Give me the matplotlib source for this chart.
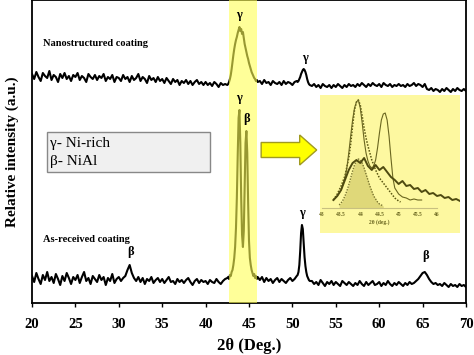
import numpy as np
import matplotlib
matplotlib.use("Agg")
from matplotlib import pyplot as plt
from matplotlib.patches import FancyArrow, Rectangle

plt.rcParams['font.family'] = ['Liberation Serif', 'DejaVu Serif']

# sampling grid of the scans (2theta, deg)
two_theta = np.concatenate([
    np.arange(20.0, 42.51, 0.25),
    np.arange(42.6, 46.01, 0.1),
    np.arange(46.25, 50.51, 0.25),
    np.arange(50.6, 52.01, 0.1),
    np.arange(52.25, 70.01, 0.25),
])

# intensity (a.u.)
nano = [
    229, 224, 231, 226, 222, 230, 227, 225, 232, 223,
    228, 226, 221, 229, 225, 230, 224, 227, 222, 228,
    226, 230, 223, 227, 225, 221, 229, 226, 224, 228,
    223, 227, 225, 229, 222, 226, 224, 228, 221, 226,
    225, 222, 228, 224, 226, 221, 227, 223, 225, 229,
    222, 226, 224, 220, 227, 223, 225, 221, 226, 222,
    224, 220, 225, 222, 219, 224, 221, 223, 218, 222,
    220, 223, 219, 222, 218, 221, 223, 219, 221, 218,
    221, 218, 220, 217, 221, 219, 216, 220, 218, 219,
    218,
    219, 221, 224, 228, 234, 241, 248, 254, 259, 263,
    266, 270, 273, 276, 272, 274, 269, 271, 265, 259,
    255, 251, 247, 244, 240, 237, 234, 231, 229, 227,
    225, 224, 222, 223, 221,
    222, 219, 223, 220, 221, 218, 222, 220, 219, 221,
    218, 222, 219, 221, 220, 218, 221, 222,
    221, 222, 224, 226, 229, 231, 233, 234, 233, 231,
    228, 224, 221, 219, 218,
    217, 219, 216, 218, 215, 219, 217, 216, 218, 215,
    218, 216, 219, 217, 215, 218, 216, 219, 217, 218,
    216, 219, 217, 220, 218, 216, 219, 217, 220, 218,
    217, 219, 216, 220, 218, 217, 219, 216, 218, 217,
    219, 217, 218, 216, 219, 217, 218, 220, 217, 219,
    218, 216, 219, 214, 213, 215, 212, 214, 213, 211,
    214, 212, 215, 213, 211, 214, 212, 215, 213, 212,
    214, 212,
]

as_received = [
    27, 21, 30, 24, 19, 28, 23, 31, 22, 26,
    20, 29, 24, 18, 27, 22, 30, 25, 19, 26,
    23, 28, 20, 26, 31, 22, 25, 19, 27, 24,
    21, 28, 23, 26, 18, 25, 22, 29, 20, 24,
    26, 22, 25, 27, 33, 38, 30, 25, 22, 26,
    21, 25, 19, 24, 22, 26, 20, 23, 25, 21,
    24, 20, 23, 26, 21, 22, 19, 24, 21, 23,
    20, 23, 25, 21, 18, 22, 24, 20, 23, 21,
    22, 19, 23, 21, 20, 24, 21, 19, 22, 24,
    25,
    26, 24, 28, 27, 31, 33, 38, 45, 56, 75,
    105, 148, 185, 193, 160, 105, 68, 56, 72, 118,
    160, 172, 150, 100, 62, 45, 38, 33, 30, 27,
    29, 25, 27, 24, 26,
    23, 26, 21, 25, 22, 24, 20, 23, 25, 21,
    24, 22, 20, 23, 25, 22, 24, 27,
    28, 31, 38, 52, 70, 78, 74, 60, 46, 37,
    31, 27, 25, 23, 22,
    22, 19, 21, 18, 23, 20, 17, 21, 19, 22,
    18, 21, 19, 17, 22, 20, 18, 21, 19, 17,
    20, 18, 22, 19, 17, 21, 18, 20, 22, 18,
    19, 21, 17, 20, 18, 22, 19, 17, 20, 18,
    21, 19, 17, 20, 18, 21, 19, 20, 22, 24,
    27, 30, 31, 28, 24, 21, 19, 20, 18, 19,
    17, 20, 18, 16, 19, 17, 18, 16, 19, 17,
    18, 16,
]

# inset: zoom on the 43-46 deg region
ins_nano_x = np.arange(43.3, 46.61, 0.1)
ins_nano = [8, 12, 18, 28, 38, 45, 48, 45, 50, 42,
            38, 43, 38, 41, 36, 31, 28, 24, 27, 22,
            23, 19, 20, 16, 18, 14, 15, 12, 13, 10,
            11, 8, 9, 7]

ins_as_x = [43.3, 43.4, 43.5, 43.6, 43.65, 43.7, 43.75, 43.8, 43.85, 43.9,
            43.95, 44.0, 44.05, 44.1, 44.15, 44.2, 44.25, 44.3, 44.35, 44.4,
            44.45, 44.5, 44.55, 44.6, 44.65, 44.7, 44.75, 44.8, 44.85, 44.9,
            45.0, 45.1, 45.2, 45.3, 45.4, 45.5, 45.6]
ins_as = [8, 12, 18, 30, 40, 55, 72, 88, 100, 106,
          108, 100, 85, 68, 55, 47, 42, 40, 42, 48,
          60, 75, 88, 94, 95, 88, 72, 50, 30, 20,
          14, 11, 10, 8, 9, 8, 8]

fit1_x = [43.3, 43.4, 43.5, 43.6, 43.7, 43.75, 43.8, 43.85, 43.9, 43.95,
          44.0, 44.05, 44.1, 44.15, 44.2, 44.3, 44.4, 44.5, 44.6, 44.7,
          44.8, 44.9, 45.0, 45.05]
fit1 = [8, 14, 22, 32, 50, 64, 82, 98, 106, 108,
        103, 92, 80, 70, 62, 48, 38, 30, 25, 20,
        15, 10, 7, 6]

fit2_x = np.arange(43.45, 44.61, 0.05)
fit2 = [3, 5, 8, 12, 17, 23, 30, 37, 43, 47,
        49, 48, 45, 40, 34, 28, 22, 17, 12, 9,
        6, 4, 3, 2]

x_ticks = [20, 25, 30, 35, 40, 45, 50, 55, 60, 65, 70]
ins_ticks = [43, 43.5, 44, 44.5, 45, 45.5, 46]
ins_tick_labels = ['43', '43.5', '44', '44.5', '45', '45.5', '46']

fig = plt.figure(figsize=(4.74, 3.55), dpi=100)
ax = fig.add_axes([32 / 474, 52 / 355, 434 / 474, 303 / 355])

ax.plot(two_theta[:len(nano)], nano, color='black', lw=1.5, zorder=2)
ax.plot(two_theta[:len(as_received)], as_received, color='black', lw=1.5, zorder=2)
ax.axvspan(42.7, 45.93, color='#ffff55', alpha=0.6, lw=0, zorder=3)

ax.set_xlim(20, 70)
ax.set_ylim(0, 303)
ax.set_xticks(x_ticks)
ax.set_xticklabels([str(t) for t in x_ticks], fontweight='bold', fontsize=10.5)
ax.set_yticks([])
ax.tick_params(axis='x', direction='out', length=3, width=1, pad=8)
for s in ax.spines.values():
    s.set_linewidth(1.3)
ax.set_xlabel('2θ (Deg.)', fontweight='bold', fontsize=12, labelpad=5)
ax.set_ylabel('Relative intensity (a.u.)', fontweight='bold', fontsize=11, labelpad=9)

ax.text(21.27, 260, 'Nanostructured coating', fontweight='bold', fontsize=7.5, va='center')
ax.text(21.27, 63, 'As-received coating', fontweight='bold', fontsize=7.5, va='center')

peak_labels = [(43.85, 288, 'γ'), (51.45, 245, 'γ'), (43.85, 205, 'γ'),
               (44.77, 184, 'β'), (51.1, 90, 'γ'), (31.3, 51, 'β'), (65.3, 47, 'β')]
for px, py, lab in peak_labels:
    ax.text(px, py, lab, fontweight='bold', fontsize=9, ha='center', va='center', zorder=4)

ax.add_patch(Rectangle((21.73, 131), 18.8, 40, facecolor='#f0f0f0', edgecolor='#888888',
                       lw=1, zorder=4))
ax.text(22.1, 160, 'γ- Ni-rich', fontsize=11, va='center', zorder=5)
ax.text(22.1, 141, 'β- NiAl', fontsize=11, va='center', zorder=5)

ax.add_patch(FancyArrow(46.4, 153, 6.4, 0, width=15, head_width=30, head_length=1.96,
                        length_includes_head=True, facecolor='#ffff00',
                        edgecolor='#a09a20', lw=1, zorder=4))

# inset
ins = fig.add_axes([320 / 474, 122 / 355, 140 / 474, 138 / 355])
ins.set_facecolor('#fdf8a0')
ins.fill_between(fit2_x, 0, fit2, color='#d8d070', alpha=0.8, lw=0)
ins.plot(fit2_x, fit2, color='#7a7530', lw=1.0, ls=(0, (1, 1)))
ins.plot(fit1_x, fit1, color='#5a5610', lw=1.1, ls=(0, (1, 1)))
ins.plot(ins_as_x, ins_as, color='#6a6620', lw=0.8)
ins.plot(ins_nano_x, ins_nano, color='#4e4a10', lw=1.4)
ins.set_xlim(42.95, 46.6)
ins.set_ylim(-25, 113)
for k in ['top', 'right', 'left']:
    ins.spines[k].set_visible(False)
ins.spines['bottom'].set_position(('data', 0))
ins.spines['bottom'].set_bounds(43, 46)
ins.spines['bottom'].set_color('#c8c080')
ins.spines['bottom'].set_linewidth(0.8)
ins.set_yticks([])
ins.set_xticks(ins_ticks)
ins.set_xticklabels(ins_tick_labels, fontsize=4, fontweight='bold', color='#6a6620')
ins.tick_params(axis='x', length=0, pad=3)
ins.text(44.5, -14, '2θ (deg.)', fontsize=4, fontweight='bold', color='#6a6620',
         ha='center', va='center')

fig.savefig('out.png', dpi=100)
